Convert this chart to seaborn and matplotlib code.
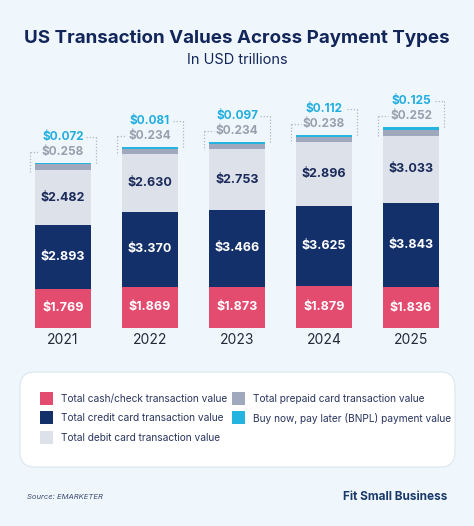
import matplotlib.pyplot as plt
import seaborn as sns
import numpy as np
from matplotlib.patches import FancyBboxPatch, Rectangle

years = ['2021', '2022', '2023', '2024', '2025']
cash = [1.769, 1.869, 1.873, 1.879, 1.836]
credit = [2.893, 3.370, 3.466, 3.625, 3.843]
debit = [2.482, 2.630, 2.753, 2.896, 3.033]
prepaid = [0.258, 0.234, 0.234, 0.238, 0.252]
bnpl = [0.072, 0.081, 0.097, 0.112, 0.125]

names = ['Total cash/check transaction value', 'Total credit card transaction value',
         'Total debit card transaction value', 'Total prepaid card transaction value',
         'Buy now, pay later (BNPL) payment value']
colors = ['#e34b6f', '#13306b', '#dde1ea', '#a0a8bd', '#25b4e0']
bg = '#f0f7fc'
navy = '#1a2a5a'

sns.set_theme(style='white')
plt.rcParams['font.family'] = ['Inter', 'DejaVu Sans']

fig = plt.figure(figsize=(4.74, 5.26), dpi=100, facecolor=bg)
ax = fig.add_axes([20 / 474, 1 - 328 / 526, 440 / 474, 232 / 526])
ax.set_facecolor(bg)
ax.set_xlim(-0.494, 4.563)
ax.set_ylim(0, 10.5)
for s in ax.spines.values():
    s.set_visible(False)
ax.set_xticks([])
ax.set_yticks([])

x = np.arange(len(years))
w = 0.644
series = [cash, credit, debit, prepaid, bnpl]
bottom = np.zeros(len(years))
for vals, c in zip(series, colors):
    ax.bar(x, vals, w, bottom=bottom, color=c, linewidth=0)
    bottom = bottom + np.array(vals)

for i in range(len(years)):
    ax.text(x[i], cash[i] / 2, f'${cash[i]:.3f}', ha='center', va='center',
            color='white', fontsize=9, fontweight='bold')
    ax.text(x[i], cash[i] + credit[i] / 2, f'${credit[i]:.3f}', ha='center', va='center',
            color='white', fontsize=9, fontweight='bold')
    ax.text(x[i], cash[i] + credit[i] + debit[i] / 2, f'${debit[i]:.3f}', ha='center',
            va='center', color=navy, fontsize=9, fontweight='bold')
    top = bottom[i]
    yp = top + 0.5
    yb = top + 1.18
    ax.text(x[i], yp, f'${prepaid[i]:.3f}', ha='center', va='center',
            color='#9aa0ae', fontsize=8.5, fontweight='bold')
    ax.text(x[i], yb, f'${bnpl[i]:.3f}', ha='center', va='center',
            color='#22aee0', fontsize=8.5, fontweight='bold')
    l, r = x[i] - w / 2 - 0.06, x[i] + w / 2 + 0.06
    dot = dict(color='#b0b6c2', lw=0.9, ls=(0, (1, 1.5)))
    ax.plot([l, x[i] - 0.27], [yp, yp], **dot)
    ax.plot([l, l], [yp, top - prepaid[i] - bnpl[i] / 2 - 0.1], **dot)
    ax.plot([x[i] + 0.27, r], [yb, yb], **dot)
    ax.plot([r, r], [yb, top - bnpl[i] / 2], **dot)
    ax.text(x[i], -0.55, years[i], ha='center', va='center', color='#222a3a', fontsize=10)

fig.text(0.5, 1 - 38 / 526, 'US Transaction Values Across Payment Types', ha='center',
         va='center', fontsize=13.5, fontweight='bold', color='#13265a')
fig.text(0.5, 1 - 60 / 526, 'In USD trillions', ha='center', va='center',
         fontsize=10.5, color='#13265a')

box = FancyBboxPatch((20 / 474, 1 - 467 / 526), 435 / 474, 95 / 526,
                     boxstyle='round,pad=0,rounding_size=0.03', transform=fig.transFigure,
                     facecolor='white', edgecolor='#dbe6ee', lw=0.8)
fig.patches.append(box)
pos = [(40, 399), (40, 418), (40, 438), (232, 399), (232, 418)]
for (px, py), n, c in zip(pos, names, colors):
    fig.patches.append(Rectangle((px / 474, 1 - (py + 6) / 526), 13 / 474, 13 / 526,
                                 transform=fig.transFigure, facecolor=c, lw=0))
    fig.text((px + 21) / 474, 1 - py / 526, n, ha='left', va='center',
             fontsize=7.3, color='#2a3560')

fig.text(27 / 474, 1 - 497 / 526, 'Source: EMARKETER', fontsize=5.5, style='italic',
         color='#3a4a70', va='center')
fig.text(447 / 474, 1 - 497 / 526, 'Fit Small Business', fontsize=8.5, fontweight='bold',
         color='#1a3a6a', va='center', ha='right')

fig.savefig('out.png', dpi=100, facecolor=bg)
